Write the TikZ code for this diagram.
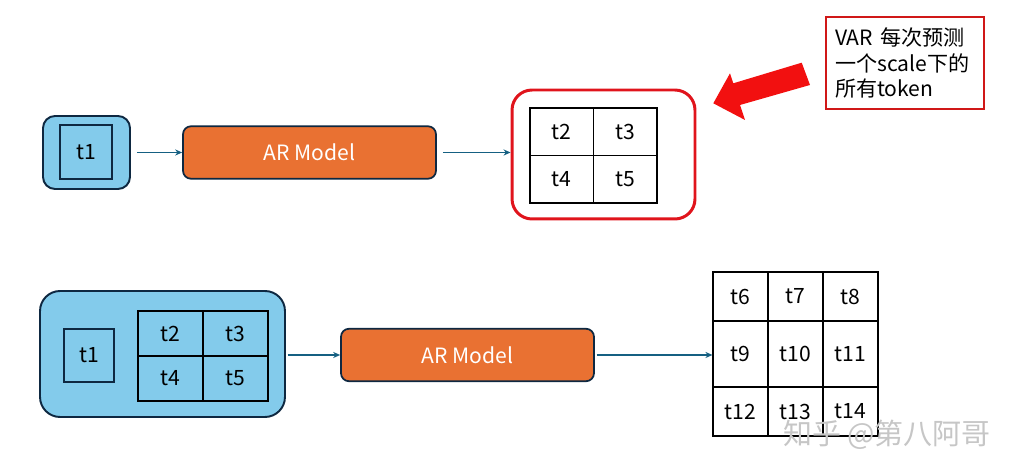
\documentclass[tikz,border=0pt]{standalone}
\usepackage{fontspec}
\setmainfont{Noto Sans CJK SC}
\usepackage{tikz}
\usetikzlibrary{arrows.meta}

\definecolor{tokblue}{HTML}{83CBEB}
\definecolor{modelorange}{HTML}{E97132}
\definecolor{edgenavy}{HTML}{0E2841}
\definecolor{linkteal}{HTML}{156082}
\definecolor{markred}{HTML}{E0141C}
\definecolor{notered}{HTML}{D01818}
\definecolor{arrowred}{HTML}{F21010}

\begin{document}
\begin{tikzpicture}[x=0.02cm, y=-0.02cm,
        every node/.style={font=\fontsize{12}{14.75}\selectfont},
        tokbox/.style={draw=edgenavy, line width=1.1pt, fill=tokblue, rounded corners=0.24cm},
        tokone/.style={draw=edgenavy, line width=1.1pt, inner sep=0pt},
        tokcell/.style={draw=black, line width=0.7pt, inner sep=0pt},
        armodel/.style={draw=edgenavy, line width=1pt, fill=modelorange, text=white, rounded corners=0.16cm, minimum width=5.06cm, minimum height=1.05cm},
        link/.style={draw=linkteal, line width=0.9pt, -{Stealth[length=4pt,width=3.5pt]}}]
        \useasboundingbox (0,0) rectangle (1020,475);

        % Top row: t1 -> AR Model -> t2..t5
        \node[tokbox, minimum width=1.74cm, minimum height=1.46cm] (topin) at (86.5,152.5) {};
        \node[tokone, minimum width=1.04cm, minimum height=1.08cm] (topt1) at (86,152) {t1};
        \node[armodel] (topar) at (309.5,152.5) {AR Model};

        \node[draw=markred, line width=1.7pt, rounded corners=0.4cm, minimum width=3.66cm, minimum height=2.58cm] (topout) at (603.5,154.5) {};
        \node[tokcell, minimum width=1.27cm, minimum height=0.95cm] (top2) at (561.75,131.75) {t2};
        \node[tokcell, minimum width=1.27cm, minimum height=0.95cm] (top3) at (625.25,131.75) {t3};
        \node[tokcell, minimum width=1.27cm, minimum height=0.95cm] (top4) at (561.75,179.25) {t4};
        \node[tokcell, minimum width=1.27cm, minimum height=0.95cm] (top5) at (625.25,179.25) {t5};

        \draw[link, shorten <=3.4pt] (topin) -- (topar);
        \draw[link, shorten <=3.4pt] (topar.east) -- (topar.east -| topout.west);

        % Callout
        \node[draw=notered, line width=1.3pt, minimum width=3.16cm, minimum height=1.84cm, text width=2.8cm, align=left, inner xsep=0.18cm] (note) at (905,63) {VAR 每次预测\\一个scale下的\\所有token};
        \fill[arrowred] (713.3,103.3) -- (730,73.3) -- (733.3,83.3) -- (801.7,62.7) -- (810,85) -- (740,105) -- (745,120) -- cycle;

        % Bottom row: t1..t5 -> AR Model -> t6..t14
        \node[tokbox, rounded corners=0.4cm, minimum width=4.9cm, minimum height=2.52cm] (botin) at (162.5,354) {};
        \node[tokone, minimum width=1.0cm, minimum height=1.06cm] (bott1) at (89,355.5) {t1};
        \node[tokcell, minimum width=1.3cm, minimum height=0.9cm] (bot2) at (170.5,333.5) {t2};
        \node[tokcell, minimum width=1.3cm, minimum height=0.9cm] (bot3) at (235.5,333.5) {t3};
        \node[tokcell, minimum width=1.3cm, minimum height=0.9cm] (bot4) at (170.5,378.5) {t4};
        \node[tokcell, minimum width=1.3cm, minimum height=0.9cm] (bot5) at (235.5,378.5) {t5};
        \node[armodel] (botar) at (467.5,355) {AR Model};

        \node[tokcell, minimum width=1.1cm, minimum height=0.98cm] (out6) at (740.5,296.5) {t6};
        \node[tokcell, minimum width=1.1cm, minimum height=0.98cm] (out7) at (795.5,296.5) {t7};
        \node[tokcell, minimum width=1.1cm, minimum height=0.98cm] (out8) at (850.5,296.5) {t8};
        \node[tokcell, minimum width=1.1cm, minimum height=1.32cm] (out9) at (740.5,354) {t9};
        \node[tokcell, minimum width=1.1cm, minimum height=1.32cm] (out10) at (795.5,354) {t10};
        \node[tokcell, minimum width=1.1cm, minimum height=1.32cm] (out11) at (850.5,354) {t11};
        \node[tokcell, minimum width=1.1cm, minimum height=0.98cm] (out12) at (740.5,411.5) {t12};
        \node[tokcell, minimum width=1.1cm, minimum height=0.98cm] (out13) at (795.5,411.5) {t13};
        \node[tokcell, minimum width=1.1cm, minimum height=0.98cm] (out14) at (850.5,411.5) {t14};

        \draw[link, shorten <=1pt] (botar.west -| botin.east) -- (botar.west);
        \draw[link, shorten <=1pt] (botar.east) -- (botar.east -| out9.west);

        % Watermark
        \node[text=gray!45, font=\fontsize{16.5}{18}\selectfont] (mark) at (887,435) {知乎 @第八阿哥};
\end{tikzpicture}
\end{document}
